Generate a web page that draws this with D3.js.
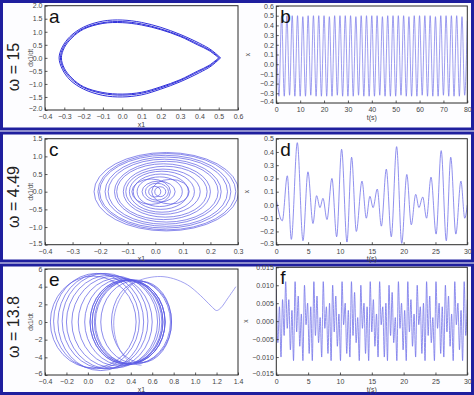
<!DOCTYPE html>
<html>
<head>
<meta charset="utf-8">
<script src="https://cdn.jsdelivr.net/npm/d3@7"></script>
<style>
  body { margin: 0; background: #fff; }
  svg { display: block; font-family: "Liberation Sans", Arial, sans-serif; }
</style>
</head>
<body>
<svg width="474" height="395"></svg>
<script>
// ---------------- data ----------------
var omegaLabels = ["\u03c9 = 15", "\u03c9 = 4.49", "\u03c9 = 13.8"];
var letters = ["a", "b", "c", "d", "e", "f"];

// tick labels
var aXTicks = [-0.4, -0.3, -0.2, -0.1, 0.0, 0.1, 0.2, 0.3, 0.4, 0.5, 0.6];
var aYTicks = [-2.0, -1.5, -1.0, -0.5, 0.0, 0.5, 1.0, 1.5, 2.0];
var bXTicks = [0, 10, 20, 30, 40, 50, 60, 70, 80];
var bYTicks = [-0.4, -0.3, -0.2, -0.1, 0.0, 0.1, 0.2, 0.3, 0.4, 0.5, 0.6];
var cXTicks = [-0.4, -0.3, -0.2, -0.1, 0.0, 0.1, 0.2, 0.3];
var cYTicks = [-1.5, -1.0, -0.5, 0.0, 0.5, 1.0, 1.5];
var dXTicks = [0, 5, 10, 15, 20, 25, 30];
var dYTicks = [-0.3, -0.2, -0.1, 0.0, 0.1, 0.2, 0.3, 0.4, 0.5];
var eXTicks = [-0.4, -0.2, 0.0, 0.2, 0.4, 0.6, 0.8, 1.0, 1.2, 1.4];
var eYTicks = [-6, -4, -2, 0, 2, 4, 6];
var fXTicks = [0, 5, 10, 15, 20, 25, 30];
var fYTicks = [-0.015, -0.010, -0.005, 0.000, 0.005, 0.010, 0.015];

// a: limit cycle, a few passes (x1, dx1/dt), tip -> top -> left -> bottom -> tip
var aLoop1 = [[0.51,0],[0.46,0.31],[0.4,0.56],[0.3,0.9],[0.2,1.17],[0.1,1.36],[0,1.45],[-0.1,1.41],[-0.2,1.18],[-0.27,0.82],[-0.31,0.42],[-0.327,0],
              [-0.31,-0.44],[-0.27,-0.85],[-0.2,-1.2],[-0.1,-1.44],[0,-1.5],[0.1,-1.42],[0.2,-1.2],[0.3,-0.92],[0.4,-0.57],[0.46,-0.32],[0.51,0]];
var aLoop2 = [[0.505,0],[0.455,0.29],[0.395,0.52],[0.3,0.85],[0.2,1.11],[0.1,1.3],[0,1.39],[-0.1,1.35],[-0.2,1.13],[-0.265,0.79],[-0.305,0.4],[-0.32,0],
              [-0.305,-0.41],[-0.265,-0.8],[-0.2,-1.14],[-0.1,-1.37],[0,-1.43],[0.1,-1.36],[0.2,-1.15],[0.3,-0.87],[0.395,-0.53],[0.455,-0.3],[0.505,0]];
var aLoop3 = [[0.5,0],[0.45,0.28],[0.39,0.5],[0.3,0.82],[0.2,1.08],[0.1,1.26],[0,1.35],[-0.1,1.32],[-0.2,1.1],[-0.26,0.77],[-0.3,0.39],[-0.315,0],
              [-0.3,-0.4],[-0.26,-0.78],[-0.2,-1.11],[-0.1,-1.33],[0,-1.39],[0.1,-1.32],[0.2,-1.11],[0.3,-0.84],[0.39,-0.51],[0.45,-0.29],[0.5,0]];

// b: x(t) turning points, one every bStep seconds
var bStep = 80 / 72;
var bVals = [0.44,-0.33,0.50,-0.33,0.50,-0.32,0.50,-0.33,0.50,-0.33,0.49,-0.33,0.50,-0.32,0.50,-0.33,0.50,-0.33,
             0.50,-0.33,0.49,-0.33,0.50,-0.32,0.50,-0.33,0.50,-0.33,0.50,-0.33,0.49,-0.32,0.50,-0.33,0.50,-0.33,
             0.50,-0.33,0.50,-0.32,0.49,-0.33,0.50,-0.33,0.50,-0.33,0.50,-0.32,0.50,-0.33,0.49,-0.33,0.50,-0.33,
             0.50,-0.32,0.50,-0.33,0.50,-0.33,0.49,-0.33,0.50,-0.32,0.50,-0.33,0.50,-0.33,0.50,-0.33,0.49,-0.32,0.45];

// c: phase portrait as nested loops [x1 centre, dx1/dt centre, x1 half-width, dx1/dt half-height]
var cLoops = [
  [0.040, 0, 0.262, 1.11], [0.042, 0, 0.250, 1.08], [0.036, 0, 0.238, 1.03], [0.040, 0, 0.222, 0.98],
  [0.034, 0, 0.205, 0.92], [0.040, 0, 0.188, 0.86], [0.030, 0, 0.170, 0.79], [0.036, 0, 0.152, 0.72],
  [0.028, 0, 0.135, 0.64], [0.024, 0, 0.118, 0.58], [0.020, 0, 0.100, 0.50], [0.016, 0, 0.082, 0.42],
  [-0.015, 0, 0.070, 0.36], [0.055, 0, 0.068, 0.35], [0.012, 0, 0.060, 0.30], [0.006, 0, 0.042, 0.24],
  [-0.002, 0, 0.022, 0.15], [0.018, 0, 0.020, 0.14]
];

// d: x(t) turning points [t, x]
var dPts = [[0,0.04],[0.94,-0.12],[1.73,0.22],[2.36,-0.26],[3.3,0.47],[4.19,-0.27],[4.97,0.25],[5.76,-0.14],
  [6.33,0.07],[6.86,-0.02],[7.33,0.05],[7.96,-0.11],[8.74,0.2],[9.48,-0.24],[10.26,0.42],[11.1,-0.28],
  [11.83,0.36],[12.57,-0.2],[13.46,0.18],[14.14,-0.1],[14.7,0.065],[15.2,-0.02],[15.86,0.12],[16.5,-0.16],
  [17.28,0.27],[18.06,-0.24],[18.9,0.44],[19.7,-0.29],[20.5,0.23],[21.2,-0.15],[21.9,0.08],[22.4,-0.02],
  [23.0,0.06],[23.6,-0.1],[24.3,0.21],[25.1,-0.22],[25.9,0.41],[26.7,-0.27],[27.4,0.36],[28.2,-0.22],
  [29.0,0.18],[29.6,-0.1],[30,0.0]];

// e: transient then quasi-periodic loops [x1 centre, dx1/dt centre, half-width, half-height]
var eTail = [[1.38,4.0],[1.3,2.6],[1.24,1.6],[1.2,1.3],[1.15,1.8],[1.05,3.0],[0.93,4.2],[0.8,4.9],[0.68,5.15],
  [0.56,5.0],[0.46,4.6],[0.37,3.8],[0.29,2.4],[0.245,0.6],[0.25,-1.4],[0.3,-3.2],[0.4,-4.6],[0.5,-4.9]];
var eLoops = [
  [0.05, 0, 0.40, 5.2], [0.08, 0.1, 0.40, 5.4], [0.12, 0, 0.40, 5.5], [0.16, 0.1, 0.40, 5.4],
  [0.20, 0, 0.40, 5.3], [0.25, 0, 0.40, 5.2], [0.29, 0, 0.38, 5.0], [0.33, 0, 0.36, 4.9],
  [0.36, 0, 0.34, 4.8], [0.37, 0, 0.33, 4.7], [0.38, 0, 0.34, 4.75], [0.37, 0, 0.35, 4.8],
  [0.39, 0, 0.33, 4.7], [0.42, 0, 0.35, 4.8], [0.45, 0, 0.33, 4.7], [0.50, 0, 0.28, 4.6]
];

// f: x(t) turning points, one every fStep seconds
var fStep = 30 / 122;
var fVals = [0.009,-0.006,0.004,-0.010,0.006,-0.004,
  0.011,-0.002,0.006,-0.008,0.003,-0.011,
  0.011,-0.003,0.007,-0.007,0.002,-0.011,
  0.010,-0.001,0.005,-0.009,0.004,-0.011,
  0.011,-0.004,0.007,-0.006,0.001,-0.010,
  0.011,-0.002,0.004,-0.009,0.005,-0.011,
  0.010,-0.003,0.007,-0.007,0.002,-0.011,
  0.011,-0.001,0.005,-0.009,0.003,-0.010,
  0.011,-0.004,0.008,-0.006,0.001,-0.011,
  0.010,-0.002,0.005,-0.009,0.004,-0.011,
  0.011,-0.003,0.006,-0.007,0.002,-0.010,
  0.011,-0.001,0.004,-0.010,0.005,-0.011,
  0.010,-0.004,0.008,-0.006,0.001,-0.011,
  0.011,-0.002,0.005,-0.008,0.003,-0.011,
  0.011,-0.003,0.006,-0.007,0.002,-0.010,
  0.010,-0.001,0.004,-0.009,0.005,-0.011,
  0.011,-0.004,0.007,-0.006,0.001,-0.011,
  0.011,-0.002,0.005,-0.009,0.004,-0.010,
  0.010,-0.003,0.007,-0.007,0.002,-0.011,
  0.011,-0.001,0.005,-0.008,0.003,-0.011,
  0.011,-0.004,0.006];

// ---------------- drawing ----------------
var svg = d3.select("svg");
var border = "#1f1f9e";

// row frames
var rows = [[0, 130.5], [131.5, 262.5], [263.5, 395]];
rows.forEach(function(r) {
  svg.append("rect")
    .attr("x", 1.5).attr("y", r[0] + 1.5)
    .attr("width", 471).attr("height", r[1] - r[0] - 3)
    .attr("fill", "#fdfdff").attr("stroke", border).attr("stroke-width", 3);
});

var clipId = 0;
function panel(o) {
  var x = d3.scaleLinear().domain(o.xd).range([o.l, o.r]);
  var y = d3.scaleLinear().domain(o.yd).range([o.b, o.t]);
  var g = svg.append("g");
  g.append("rect").attr("x", o.l).attr("y", o.t)
    .attr("width", o.r - o.l).attr("height", o.b - o.t).attr("fill", "#fff");

  var id = "clip" + (clipId++);
  svg.append("clipPath").attr("id", id).append("rect")
    .attr("x", o.l).attr("y", o.t).attr("width", o.r - o.l).attr("height", o.b - o.t);
  var plot = g.append("g").attr("clip-path", "url(#" + id + ")");

  var ax = g.append("g").attr("transform", "translate(0," + o.b + ")")
    .call(d3.axisBottom(x).tickValues(o.xt).tickFormat(d3.format(o.xf))
      .tickSizeInner(-2.5).tickSizeOuter(0).tickPadding(4.5));
  var ay = g.append("g").attr("transform", "translate(" + o.l + ",0)")
    .call(d3.axisLeft(y).tickValues(o.yt).tickFormat(d3.format(o.yf))
      .tickSizeInner(-2.5).tickSizeOuter(0).tickPadding(2.5));
  [ax, ay].forEach(function(a) {
    a.select(".domain").remove();
    a.selectAll("line").attr("stroke", "#333").attr("stroke-width", 0.8);
    a.selectAll("text").attr("font-size", 7).attr("fill", "#444").attr("font-family", "Liberation Sans, Arial, sans-serif");
  });
  // lowest y label sits a little above the corner
  ay.selectAll(".tick").filter(function(d) { return d === o.yd[0]; }).select("text").attr("dy", "0.1em");

  g.append("text").attr("x", (o.l + o.r) / 2).attr("y", o.b + 16.5)
    .attr("text-anchor", "middle").attr("font-size", 7).attr("fill", "#444").text(o.xl);
  g.append("text")
    .attr("transform", "translate(" + o.ylx + "," + ((o.t + o.b) / 2) + ") rotate(-90)")
    .attr("text-anchor", "middle").attr("font-size", 6.5).attr("fill", "#555").text(o.yl);

  return { g: g, plot: plot, x: x, y: y, o: o };
}

function finish(p, letter) {
  p.g.append("rect").attr("x", p.o.l).attr("y", p.o.t)
    .attr("width", p.o.r - p.o.l).attr("height", p.o.b - p.o.t)
    .attr("fill", "none").attr("stroke", "#2a2a2a").attr("stroke-width", 1);
  p.g.append("text").attr("x", p.o.l + 4).attr("y", p.o.t + 17)
    .attr("font-size", 19).attr("fill", "#111").text(letter);
}

var L = { l: 45, r: 238 }, R = { l: 276.3, r: 467.3 };
var tsLine = "#7474ea";

// ---- row 1 ----
var pa = panel({ l: L.l, r: L.r, t: 5.7, b: 110, xd: [-0.4, 0.6], yd: [-2, 2],
  xt: aXTicks, yt: aYTicks, xf: ".1f", yf: ".1f", xl: "x1", yl: "dx1/dt", ylx: 33 });
var loopLine = d3.line().x(function(d) { return pa.x(d[0]); }).y(function(d) { return pa.y(d[1]); })
  .curve(d3.curveCatmullRom.alpha(0.5));
[aLoop1, aLoop2, aLoop3].forEach(function(lp) {
  pa.plot.append("path").attr("d", loopLine(lp)).attr("fill", "none")
    .attr("stroke", "#3030da").attr("stroke-width", 1);
});
finish(pa, letters[0]);

var pb = panel({ l: R.l, r: R.r, t: 6, b: 103, xd: [0, 80], yd: [-0.4, 0.6],
  xt: bXTicks, yt: bYTicks, xf: "d", yf: ".1f", xl: "t(s)", yl: "x", ylx: 250 });
var bLine = d3.line().x(function(d, i) { return pb.x(i * bStep); }).y(function(d) { return pb.y(d); })
  .curve(d3.curveMonotoneX);
pb.plot.append("path").attr("d", bLine(bVals)).attr("fill", "none")
  .attr("stroke", tsLine).attr("stroke-width", 0.7);
finish(pb, letters[1]);

// ---- row 2 ----
var pc = panel({ l: L.l, r: L.r, t: 138.7, b: 244.7, xd: [-0.4, 0.3], yd: [-1.5, 1.5],
  xt: cXTicks, yt: cYTicks, xf: ".1f", yf: ".1f", xl: "x1", yl: "dx1/dt", ylx: 33 });
pc.plot.selectAll("ellipse").data(cLoops).enter().append("ellipse")
  .attr("cx", function(d) { return pc.x(d[0]); })
  .attr("cy", function(d) { return pc.y(d[1]); })
  .attr("rx", function(d) { return pc.x(d[2]) - pc.x(0); })
  .attr("ry", function(d) { return pc.y(0) - pc.y(d[3]); })
  .attr("fill", "none").attr("stroke", "#5a5ae4").attr("stroke-width", 0.7);
finish(pc, letters[2]);

var pd = panel({ l: R.l, r: R.r, t: 138.7, b: 244.7, xd: [0, 30], yd: [-0.3, 0.5],
  xt: dXTicks, yt: dYTicks, xf: "d", yf: ".1f", xl: "t(s)", yl: "x", ylx: 249 });
var dLine = d3.line().x(function(d) { return pd.x(d[0]); }).y(function(d) { return pd.y(d[1]); })
  .curve(d3.curveMonotoneX);
pd.plot.append("path").attr("d", dLine(dPts)).attr("fill", "none")
  .attr("stroke", tsLine).attr("stroke-width", 0.8);
finish(pd, letters[3]);

// ---- row 3 ----
var pe = panel({ l: L.l, r: L.r, t: 269, b: 375, xd: [-0.4, 1.4], yd: [-6, 6],
  xt: eXTicks, yt: eYTicks, xf: ".1f", yf: "d", xl: "x1", yl: "dx1/dt", ylx: 33 });
pe.plot.selectAll("ellipse").data(eLoops).enter().append("ellipse")
  .attr("cx", function(d) { return pe.x(d[0]); })
  .attr("cy", function(d) { return pe.y(d[1]); })
  .attr("rx", function(d) { return pe.x(d[2]) - pe.x(0); })
  .attr("ry", function(d) { return pe.y(0) - pe.y(d[3]); })
  .attr("fill", "none").attr("stroke", "#5a5ae4").attr("stroke-width", 0.7);
var eLine = d3.line().x(function(d) { return pe.x(d[0]); }).y(function(d) { return pe.y(d[1]); })
  .curve(d3.curveCatmullRom.alpha(0.5));
pe.plot.append("path").attr("d", eLine(eTail)).attr("fill", "none")
  .attr("stroke", "#7a7aea").attr("stroke-width", 0.7);
finish(pe, letters[4]);

var pf = panel({ l: R.l, r: R.r, t: 267.3, b: 375, xd: [0, 30], yd: [-0.015, 0.015],
  xt: fXTicks, yt: fYTicks, xf: "d", yf: ".3f", xl: "t(s)", yl: "x", ylx: 248 });
var fLine = d3.line().x(function(d, i) { return pf.x(i * fStep); }).y(function(d) { return pf.y(d); })
  .curve(d3.curveMonotoneX);
pf.plot.append("path").attr("d", fLine(fVals)).attr("fill", "none")
  .attr("stroke", tsLine).attr("stroke-width", 0.8);
finish(pf, letters[5]);

// omega labels
var omegaY = [67, 197, 327];
omegaLabels.forEach(function(t, i) {
  svg.append("text")
    .attr("transform", "translate(19," + omegaY[i] + ") rotate(-90)")
    .attr("text-anchor", "middle").attr("font-size", 16).attr("fill", "#222").text(t);
});
</script>
</body>
</html>
